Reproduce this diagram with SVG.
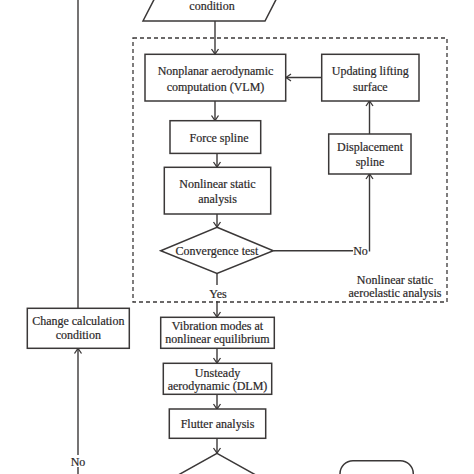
<svg xmlns="http://www.w3.org/2000/svg" width="474" height="474" viewBox="0 0 474 474">
<defs>
<marker id="arr" markerUnits="userSpaceOnUse" markerWidth="12" markerHeight="12" viewBox="-7 -6 8 12" refX="0" refY="0" orient="auto">
<path d="M-5,-3.5 L0,0 L-5,3.5" fill="none" stroke="#3b3838" stroke-width="1.3"/>
</marker>
</defs>
<style>
.box{fill:#fff;stroke:#3b3838;stroke-width:1.5}
.ln{fill:none;stroke:#3b3838;stroke-width:1.4}
.t{font-family:"Liberation Serif","Times New Roman",serif;font-size:12px;fill:#2b2828;stroke:#2b2828;stroke-width:0.2;text-anchor:middle}
</style>
<rect width="474" height="474" fill="#fff"/>
<g id="connectors">
<path class="ln" d="M215,21 V54" marker-end="url(#arr)"/>
<path class="ln" d="M321.5,77.5 H286" marker-end="url(#arr)"/>
<path class="ln" d="M215,101 V120.5" marker-end="url(#arr)"/>
<path class="ln" d="M217,153.5 V167" marker-end="url(#arr)"/>
<path class="ln" d="M217,214 V227" marker-end="url(#arr)"/>
<path class="ln" d="M273.5,250.7 H353"/>
<path class="ln" d="M369.5,251.5 V174" marker-end="url(#arr)"/>
<path class="ln" d="M369.5,134 V101" marker-end="url(#arr)"/>
<path class="ln" d="M217,273.5 V285"/>
<path class="ln" d="M217,301 V317" marker-end="url(#arr)"/>
<path class="ln" d="M217,348.5 V363" marker-end="url(#arr)"/>
<path class="ln" d="M217,394.5 V409" marker-end="url(#arr)"/>
<path class="ln" d="M217,438.5 V453" marker-end="url(#arr)"/>
<path class="ln" d="M78,308.5 V0"/>
<path class="ln" d="M78,474 V467"/>
<path class="ln" d="M78,455 V348.5" marker-end="url(#arr)"/>
<text class="t" x="360.5" y="255">No</text>
<text class="t" x="218" y="298">Yes</text>
<text class="t" x="78" y="465.5">No</text>
</g>
<g id="group-static">
<rect x="133" y="38" width="314" height="264" fill="none" stroke="#3b3838" stroke-width="1.3" stroke-dasharray="4,3"/>
<text class="t" x="395" y="284">Nonlinear static</text>
<text class="t" x="395" y="296.5">aeroelastic analysis</text>
</g>
<g id="input-condition">
<path class="box" d="M160,-12 L282,-12 L265,21 L143,21 Z"/>
<text class="t" x="212" y="10">condition</text>
</g>
<g id="vlm">
<rect class="box" x="145" y="54.3" width="140.7" height="46.7"/>
<text class="t" x="215.5" y="75">Nonplanar aerodynamic</text>
<text class="t" x="215.5" y="90.5">computation (VLM)</text>
</g>
<g id="updating">
<rect class="box" x="321.7" y="54.3" width="97.3" height="46.7"/>
<text class="t" x="370.3" y="75">Updating lifting</text>
<text class="t" x="370.3" y="90.5">surface</text>
</g>
<g id="force-spline">
<rect class="box" x="170" y="120.7" width="90.7" height="32.7"/>
<text class="t" x="219" y="141.5">Force spline</text>
</g>
<g id="nonlinear-static">
<rect class="box" x="164.3" y="167.3" width="106.4" height="46.7"/>
<text class="t" x="217.5" y="187.5">Nonlinear static</text>
<text class="t" x="217.5" y="202.5">analysis</text>
</g>
<g id="displacement">
<rect class="box" x="328.7" y="134" width="82.3" height="40"/>
<text class="t" x="370" y="151">Displacement</text>
<text class="t" x="370" y="165.5">spline</text>
</g>
<g id="convergence">
<path class="box" d="M217,227.3 L273.3,250.7 L217,273.5 L160.7,250.7 Z"/>
<text class="t" x="217" y="255">Convergence test</text>
</g>
<g id="vibration">
<rect class="box" x="160.7" y="317.3" width="113.6" height="31"/>
<text class="t" x="217.5" y="330">Vibration modes at</text>
<text class="t" x="217.5" y="342.5">nonlinear equilibrium</text>
</g>
<g id="change">
<rect class="box" x="27.3" y="308.3" width="102" height="40"/>
<text class="t" x="78.3" y="325">Change calculation</text>
<text class="t" x="78.3" y="339">condition</text>
</g>
<g id="unsteady">
<rect class="box" x="163.3" y="363.3" width="108.4" height="31"/>
<text class="t" x="217.5" y="376.5">Unsteady</text>
<text class="t" x="217.5" y="389.5">aerodynamic (DLM)</text>
</g>
<g id="flutter">
<rect class="box" x="169.3" y="409" width="96.4" height="29.3"/>
<text class="t" x="217.5" y="427.5">Flutter analysis</text>
</g>
<g id="flutter-check">
<path class="box" d="M217,453.3 L279,488 L217,522 L155,488 Z"/>
</g>
<g id="flutter-speed">
<rect class="box" x="340" y="460.7" width="73.3" height="40" rx="13"/>
</g>
</svg>
